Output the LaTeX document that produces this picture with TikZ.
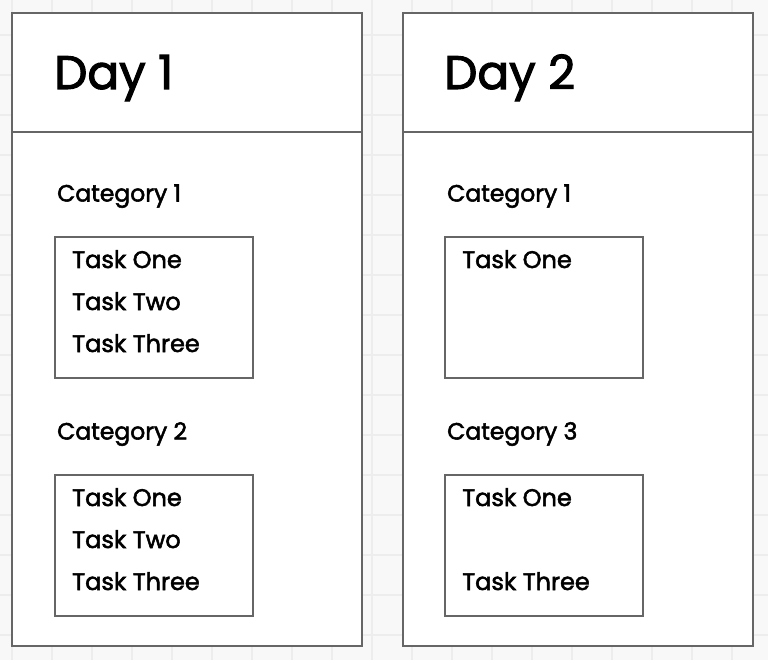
\documentclass[tikz,border=0pt]{standalone}
\usepackage{fontspec}
\setmainfont{Poppins}
\newfontfamily\sketchfont{Poppins}[FakeBold=2.2]
\usepackage{xcolor}
\definecolor{canvas}{HTML}{F8F8F8}
\definecolor{gridline}{HTML}{EDEDED}
\definecolor{frame}{HTML}{666666}

\begin{document}
\begin{tikzpicture}[x=1pt,y=-1pt,
    panel/.style={draw=frame,line width=2pt,fill=white},
    taskbox/.style={draw=frame,line width=1.6pt,fill=white},
    daytitle/.style={anchor=base west,inner sep=0pt,font=\sketchfont\fontsize{47}{50}\selectfont},
    cattitle/.style={anchor=base west,inner sep=0pt,font=\sketchfont\fontsize{23.5}{26}\selectfont},
    taskitem/.style={anchor=base west,inner sep=0pt,font=\sketchfont\fontsize{24}{26}\selectfont}]
    \useasboundingbox (0,0) rectangle (768,660);

    % draw background grid
    \fill[canvas] (0,0) rectangle (768,660);
    \foreach \x in {12,52,...,772}
        \draw[gridline,line width=2.5pt] (\x,0) -- (\x,660);
    \foreach \y in {35,75,...,675}
        \draw[gridline,line width=2.5pt] (0,\y) -- (768,\y);

    % draw day panels
    \draw[panel] (12,13) rectangle (362,646);
    \draw[frame,line width=2pt] (12,132) -- (362,132);
    \draw[panel] (403,13) rectangle (753,646);
    \draw[frame,line width=2pt] (403,132) -- (753,132);

    \node[daytitle] (day1) at (54,89) {Day 1};
    \node[daytitle] (day2) at (444,89) {Day 2};

    % draw task boxes
    \draw[taskbox] (55,237) rectangle (253,378);
    \draw[taskbox] (55,475) rectangle (253,616);
    \draw[taskbox] (445,237) rectangle (643,378);
    \draw[taskbox] (445,475) rectangle (643,616);

    % day 1 content
    \node[cattitle] (d1cat1) at (57,201.5) {Category 1};
    \node[taskitem] (d1a1) at (72,268) {Task One};
    \node[taskitem] (d1a2) at (72,310) {Task Two};
    \node[taskitem] (d1a3) at (72,352) {Task Three};

    \node[cattitle] (d1cat2) at (57,439.5) {Category 2};
    \node[taskitem] (d1b1) at (72,506) {Task One};
    \node[taskitem] (d1b2) at (72,548) {Task Two};
    \node[taskitem] (d1b3) at (72,590) {Task Three};

    % day 2 content
    \node[cattitle] (d2cat1) at (447,201.5) {Category 1};
    \node[taskitem] (d2a1) at (462,268) {Task One};

    \node[cattitle] (d2cat3) at (447,439.5) {Category 3};
    \node[taskitem] (d2b1) at (462,506) {Task One};
    \node[taskitem] (d2b3) at (462,590) {Task Three};
\end{tikzpicture}
\end{document}
